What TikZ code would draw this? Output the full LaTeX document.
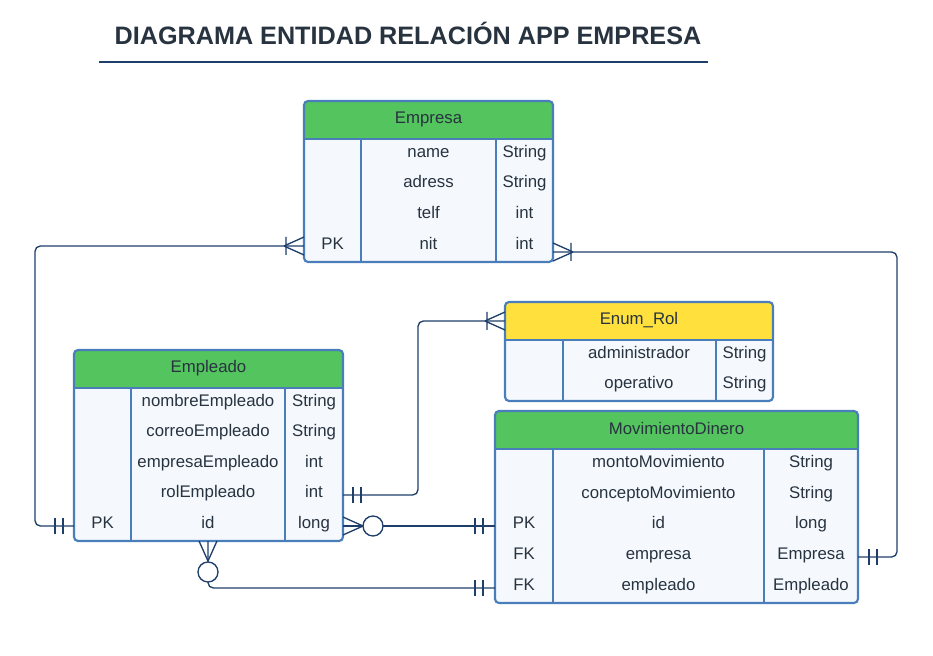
\documentclass[tikz,border=0pt]{standalone}
\usepackage{fontspec}
\setmainfont{Liberation Sans}
\usetikzlibrary{calc}
\definecolor{hgreen}{HTML}{54C45E}
\definecolor{hyellow}{HTML}{FFE03D}
\definecolor{tbord}{HTML}{4A7EBB}
\definecolor{body}{HTML}{F5F9FD}
\definecolor{cline}{HTML}{1F3F6B}
\definecolor{ttl}{HTML}{283340}
\begin{document}
\begin{tikzpicture}[x=0.75pt,y=-0.75pt,
  tb/.style={draw=tbord,line width=1.6pt},
  cl/.style={draw=tbord,line width=1.2pt},
  txt/.style={font=\fontsize{12.6}{14}\selectfont,text=ttl,inner sep=0pt,text height=9pt,text depth=2.5pt},
  con/.style={draw=cline,line width=1pt,rounded corners=4},
  mk/.style={draw=cline,line width=1pt}]
\useasboundingbox (0,0) rectangle (933,656);
\node[font=\bfseries\fontsize{18.9}{21}\selectfont,text=ttl] (title) at (408,33) {DIAGRAMA ENTIDAD RELACIÓN APP EMPRESA};
\draw[cline,line width=1pt] (99,62) -- (708,62);

\newcommand\mytable[8]{%
 \fill[body,rounded corners=3] (#1,#5) rectangle (#4,#7);
 \fill[#8] (#1,#6) [rounded corners=3]-- (#1,#5) -- (#4,#5) [sharp corners]-- (#4,#6) -- cycle;
 \draw[cl] (#1,#6) -- (#4,#6) (#2,#6) -- (#2,#7) (#3,#6) -- (#3,#7);
 \draw[tb,rounded corners=3] (#1,#5) rectangle (#4,#7);}

% Empresa
\mytable{304}{361}{496}{553}{101}{139}{262}{hgreen}
\node[txt] (empT) at (428.5,119) {Empresa};
\node[txt] at (428.5,153) {name};\node[txt] at (524.5,153) {String};
\node[txt] at (428.5,183) {adress};\node[txt] at (524.5,183) {String};
\node[txt] at (428.5,214) {telf};\node[txt] at (524.5,214) {int};
\node[txt] at (332.5,245) {PK};\node[txt] at (428.5,245) {nit};\node[txt] at (524.5,245) {int};
\coordinate (empL) at (304,246);\coordinate (empR) at (553,252);

% Enum_Rol
\mytable{505}{563}{716}{773}{302}{340}{401}{hyellow}
\node[txt] at (639,320) {Enum\_Rol};
\node[txt] at (639,354) {administrador};\node[txt] at (744.5,354) {String};
\node[txt] at (639,384) {operativo};\node[txt] at (744.5,384) {String};
\coordinate (rolL) at (505,321);

% Empleado
\mytable{74}{131}{285}{343}{350}{388}{541}{hgreen}
\node[txt] at (208.5,368) {Empleado};
\node[txt] at (208,402) {nombreEmpleado};\node[txt] at (314,402) {String};
\node[txt] at (208,432) {correoEmpleado};\node[txt] at (314,432) {String};
\node[txt] at (208,463) {empresaEmpleado};\node[txt] at (314,463) {int};
\node[txt] at (208,493) {rolEmpleado};\node[txt] at (314,493) {int};
\node[txt] at (102.5,524) {PK};\node[txt] at (208,524) {id};\node[txt] at (314,524) {long};
\coordinate (eIdL) at (74,526);\coordinate (eRolR) at (343,495);
\coordinate (eIdR) at (343,526);\coordinate (eB) at (208,541);

% MovimientoDinero
\mytable{495}{553}{764}{858}{411}{449}{603}{hgreen}
\node[txt] at (676.5,430) {MovimientoDinero};
\node[txt] at (658.5,463) {montoMovimiento};\node[txt] at (811,463) {String};
\node[txt] at (658.5,494) {conceptoMovimiento};\node[txt] at (811,494) {String};
\node[txt] at (524,524) {PK};\node[txt] at (658.5,524) {id};\node[txt] at (811,524) {long};
\node[txt] at (524,555) {FK};\node[txt] at (658.5,555) {empresa};\node[txt] at (811,555) {Empresa};
\node[txt] at (524,586) {FK};\node[txt] at (658.5,586) {empleado};\node[txt] at (811,586) {Empleado};
\coordinate (mIdL) at (495,526);\coordinate (mEmpR) at (858,557);\coordinate (mEmplL) at (495,588);

% connector 1
\draw[con] (eIdL) -- (35,526) -- (35,246) -- (empL);
\draw[mk] (55,518) -- (55,534) (63,518) -- (63,534);
\draw[mk] (284,246) -- (304,237) (284,246) -- (304,255) (286,237) -- (286,255);
% connector 2
\draw[con] (mEmpR) -- (897,557) -- (897,252) -- (empR);
\draw[mk] (869,549) -- (869,565) (877,549) -- (877,565);
\draw[mk] (573,252) -- (553,243) (573,252) -- (553,261) (571,243) -- (571,261);
% connector 3
\draw[con] (eRolR) -- (418,495) -- (418,321) -- (rolL);
\draw[mk] (353,487) -- (353,503) (361,487) -- (361,503);
\draw[mk] (485,321) -- (505,312) (485,321) -- (505,330) (487,312) -- (487,330);
% connector 4
\draw[con] (eIdR) -- (363,526) (383,526) -- (mIdL);
\draw[mk] (363,526) -- (343,517) (363,526) -- (343,535);
\draw[mk,fill=white] (373,526) circle (10);
\draw[mk] (475,518) -- (475,534) (483,518) -- (483,534);
% connector 5
\draw[con] (eB) -- (208,562) (208,582) -- (208,588) -- (mEmplL);
\draw[mk] (208,561) -- (199,541) (208,561) -- (217,541);
\draw[mk,fill=white] (208,572) circle (10);
\draw[mk] (475,580) -- (475,596) (483,580) -- (483,596);
\end{tikzpicture}
\end{document}
